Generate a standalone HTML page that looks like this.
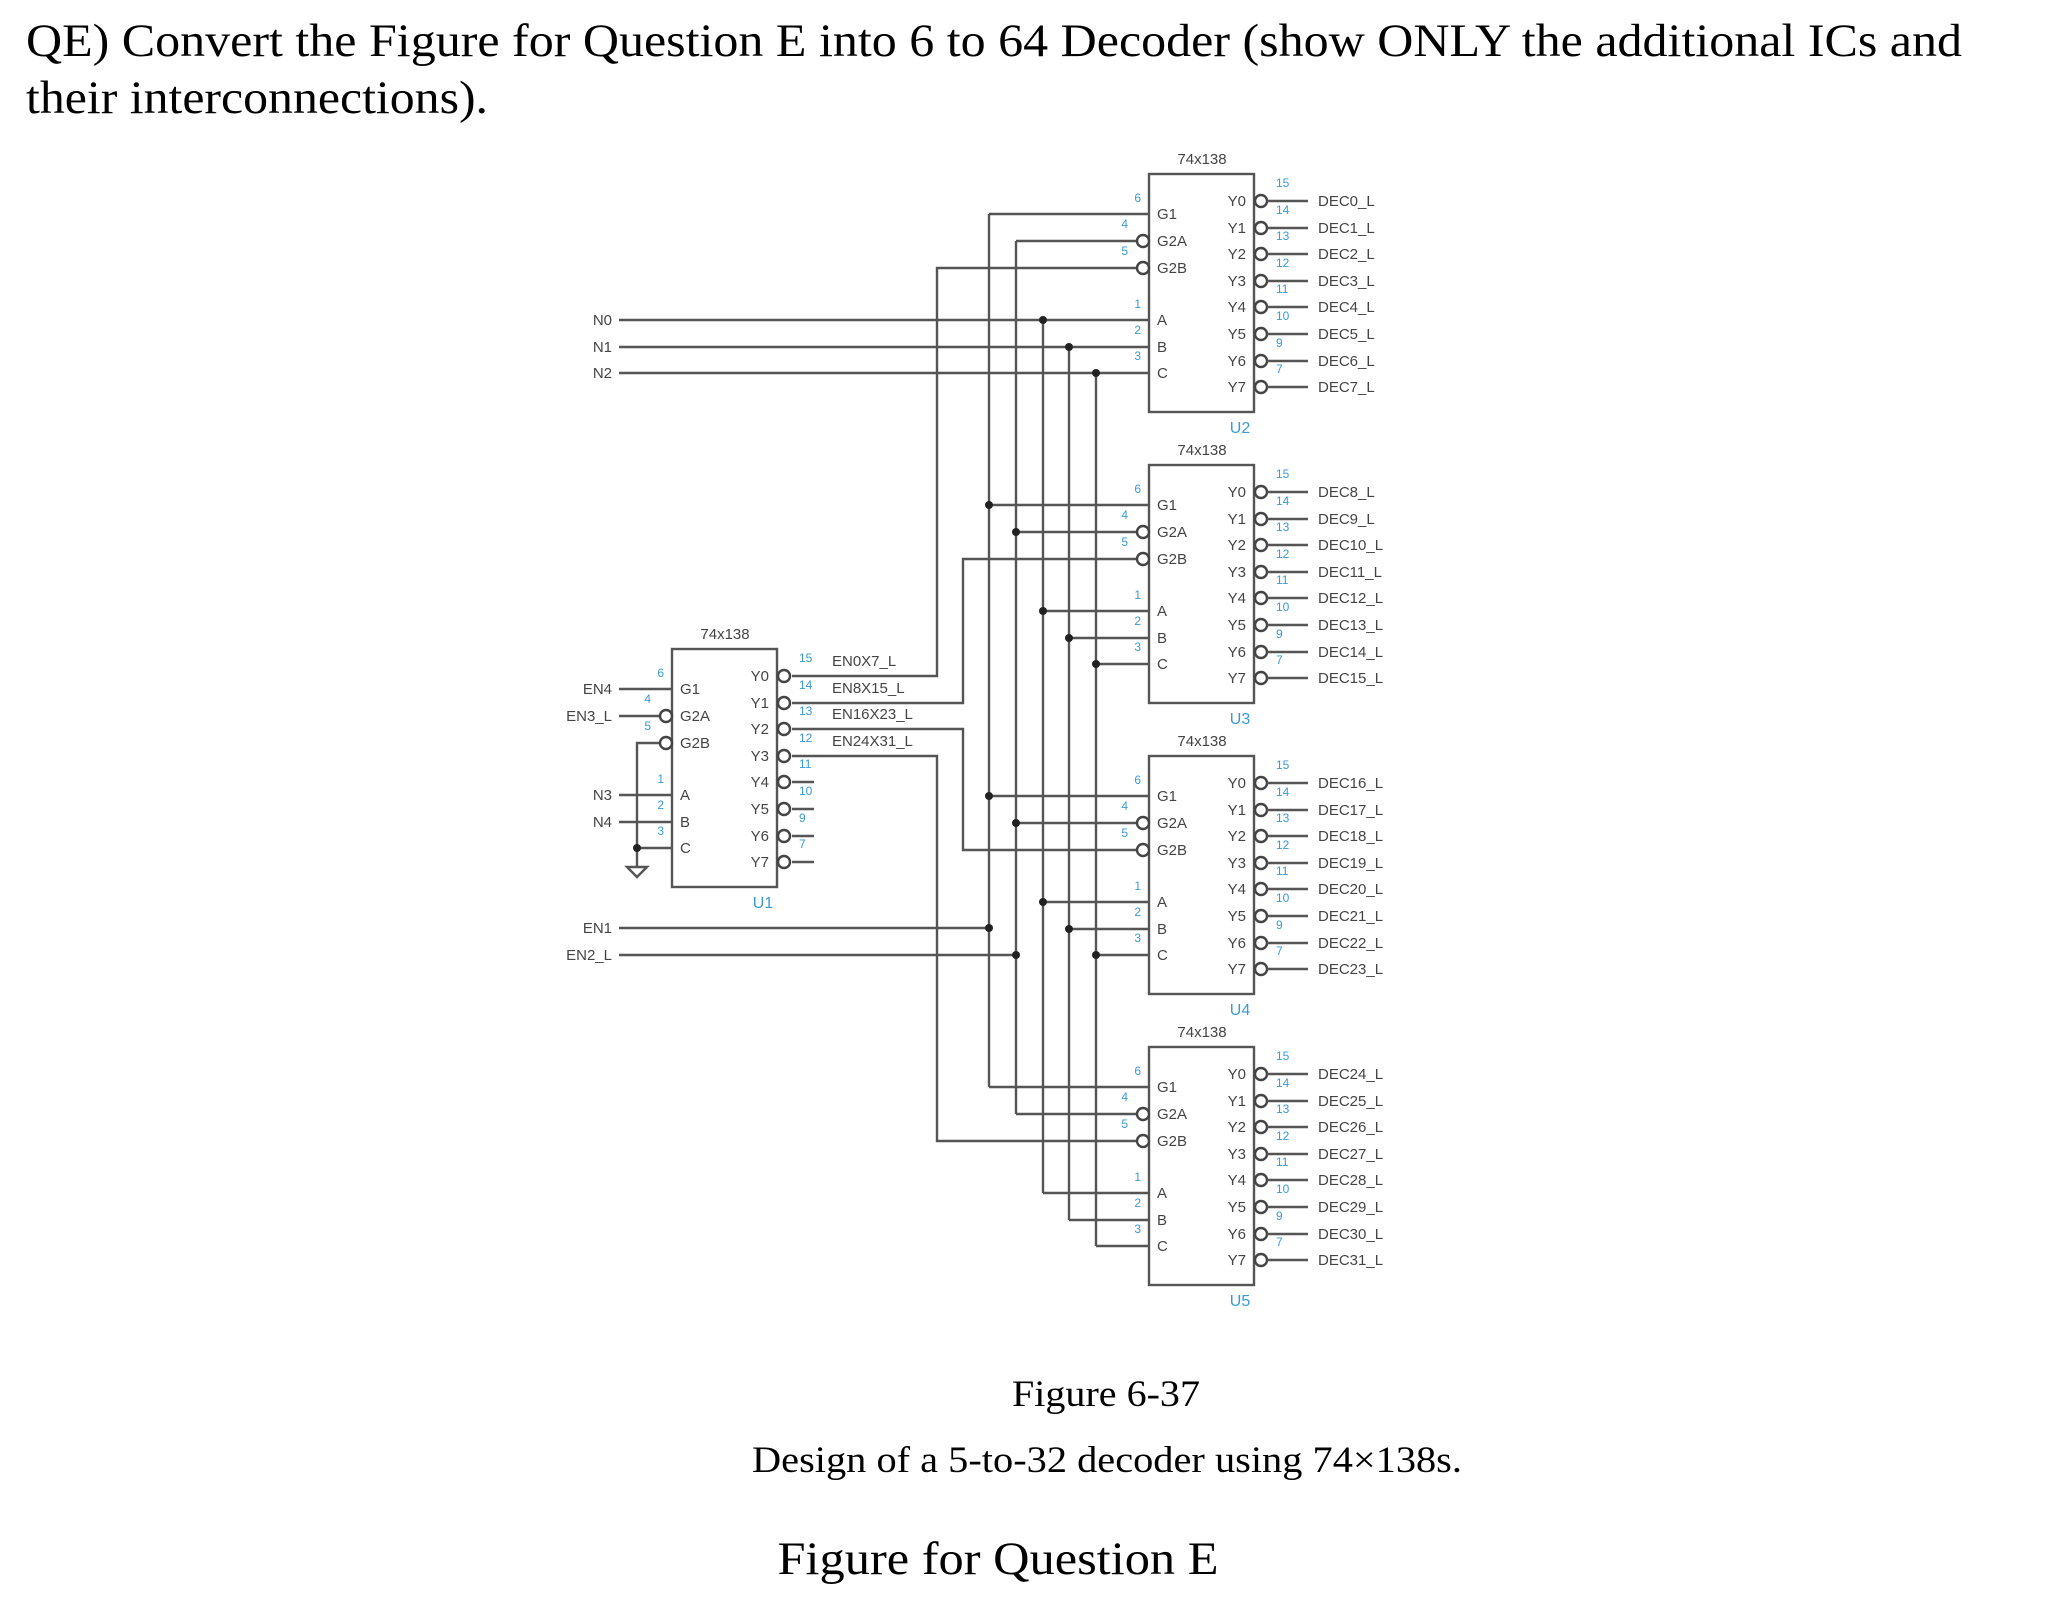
<!DOCTYPE html>
<html><head><meta charset="utf-8"><style>
html,body{margin:0;padding:0;background:#fff;}
svg{display:block;}
.t{font-family:"Liberation Serif",serif;fill:#000;}
.s{font-family:"Liberation Sans",sans-serif;font-size:15px;fill:#444;}
.b{font-family:"Liberation Sans",sans-serif;font-size:12px;fill:#3a9ad9;}
.u{font-family:"Liberation Sans",sans-serif;font-size:16px;fill:#3a9ad9;}
.w{fill:none;stroke:#555;stroke-width:2.4;}
.c{fill:#fff;stroke:#444;stroke-width:2.4;}
.d{fill:#222;}
</style></head><body>
<svg width="2046" height="1620" viewBox="0 0 2046 1620" xmlns="http://www.w3.org/2000/svg">
<defs>
<g id="chipbase">
<rect x="1149" y="0" width="105" height="238" class="w" stroke="#444"/>
<text x="1202" y="-10" class="s" text-anchor="middle">74x138</text>
<g class="s">
<text x="1157" y="45">G1</text><text x="1157" y="72">G2A</text><text x="1157" y="99">G2B</text>
<text x="1157" y="151">A</text><text x="1157" y="178">B</text><text x="1157" y="204">C</text>
</g>
<g class="s" text-anchor="end">
<text x="1246" y="32">Y0</text><text x="1246" y="59">Y1</text><text x="1246" y="85">Y2</text><text x="1246" y="112">Y3</text>
<text x="1246" y="138">Y4</text><text x="1246" y="165">Y5</text><text x="1246" y="192">Y6</text><text x="1246" y="218">Y7</text>
</g>
<g class="b" text-anchor="end">
<text x="1141" y="28">6</text><text x="1128" y="54">4</text><text x="1128" y="81">5</text>
<text x="1141" y="134">1</text><text x="1141" y="160">2</text><text x="1141" y="186">3</text>
</g>
<g class="b">
<text x="1276" y="13">15</text><text x="1276" y="40">14</text><text x="1276" y="66">13</text><text x="1276" y="93">12</text>
<text x="1276" y="119">11</text><text x="1276" y="146">10</text><text x="1276" y="173">9</text><text x="1276" y="199">7</text>
</g>
<circle cx="1143" cy="67" r="6" class="c"/><circle cx="1143" cy="94" r="6" class="c"/>
<g class="c">
<circle cx="1261" cy="27" r="6"/><circle cx="1261" cy="54" r="6"/><circle cx="1261" cy="80" r="6"/><circle cx="1261" cy="107" r="6"/>
<circle cx="1261" cy="133" r="6"/><circle cx="1261" cy="160" r="6"/><circle cx="1261" cy="187" r="6"/><circle cx="1261" cy="213" r="6"/>
</g>
</g>
<path id="outs" class="w" d="M1267 27H1308M1267 54H1308M1267 80H1308M1267 107H1308M1267 133H1308M1267 160H1308M1267 187H1308M1267 213H1308"/>
</defs>

<text x="26" y="56" class="t" font-size="47" textLength="1936" lengthAdjust="spacingAndGlyphs">QE) Convert the Figure for Question E into 6 to 64 Decoder (show ONLY the additional ICs and</text>
<text x="26" y="113" class="t" font-size="47" textLength="462" lengthAdjust="spacingAndGlyphs">their interconnections).</text>

<!-- wires -->
<path class="w" d="
M619 320H1149M619 347H1149M619 373H1149
M619 928H989M619 955H1016
M989 214V1087M1016 241V1114M1043 320V1193M1069 347V1220M1096 373V1246
M989 214H1149M989 505H1149M989 796H1149M989 1087H1149
M1016 241H1137M1016 532H1137M1016 823H1137M1016 1114H1137
M1043 611H1149M1043 902H1149M1043 1193H1149
M1069 638H1149M1069 929H1149M1069 1220H1149
M1096 664H1149M1096 955H1149M1096 1246H1149
M792 676H937V268H1137
M792 756H937V1141H1137
M792 703H963V559H1137
M792 729H963V850H1137
M619 689H672M619 716H660M660 743H637V867M637 848H672M619 795H672M619 822H672
M792 782H814M792 809H814M792 836H814M792 862H814
M627 867H647L637 877Z
"/>
<g class="d">
<circle cx="1043" cy="320" r="4"/><circle cx="1069" cy="347" r="4"/><circle cx="1096" cy="373" r="4"/>
<circle cx="989" cy="505" r="4"/><circle cx="1016" cy="532" r="4"/><circle cx="1043" cy="611" r="4"/><circle cx="1069" cy="638" r="4"/><circle cx="1096" cy="664" r="4"/>
<circle cx="989" cy="796" r="4"/><circle cx="1016" cy="823" r="4"/><circle cx="1043" cy="902" r="4"/><circle cx="1069" cy="929" r="4"/><circle cx="1096" cy="955" r="4"/>
<circle cx="989" cy="928" r="4"/><circle cx="1016" cy="955" r="4"/><circle cx="637" cy="848" r="4"/>
</g>

<g class="s" text-anchor="end">
<text x="612" y="325">N0</text><text x="612" y="352">N1</text><text x="612" y="378">N2</text>
<text x="612" y="694">EN4</text><text x="612" y="721">EN3_L</text>
<text x="612" y="800">N3</text><text x="612" y="827">N4</text>
<text x="612" y="933">EN1</text><text x="612" y="960">EN2_L</text>
</g>

<!-- U2 -->
<g transform="translate(0,174)"><use href="#chipbase"/><use href="#outs"/>
<text x="1240" y="259" class="u" text-anchor="middle">U2</text>
<g class="s"><text x="1318" y="32">DEC0_L</text><text x="1318" y="59">DEC1_L</text><text x="1318" y="85">DEC2_L</text><text x="1318" y="112">DEC3_L</text><text x="1318" y="138">DEC4_L</text><text x="1318" y="165">DEC5_L</text><text x="1318" y="192">DEC6_L</text><text x="1318" y="218">DEC7_L</text></g></g>
<!-- U3 -->
<g transform="translate(0,465)"><use href="#chipbase"/><use href="#outs"/>
<text x="1240" y="259" class="u" text-anchor="middle">U3</text>
<g class="s"><text x="1318" y="32">DEC8_L</text><text x="1318" y="59">DEC9_L</text><text x="1318" y="85">DEC10_L</text><text x="1318" y="112">DEC11_L</text><text x="1318" y="138">DEC12_L</text><text x="1318" y="165">DEC13_L</text><text x="1318" y="192">DEC14_L</text><text x="1318" y="218">DEC15_L</text></g></g>
<!-- U4 -->
<g transform="translate(0,756)"><use href="#chipbase"/><use href="#outs"/>
<text x="1240" y="259" class="u" text-anchor="middle">U4</text>
<g class="s"><text x="1318" y="32">DEC16_L</text><text x="1318" y="59">DEC17_L</text><text x="1318" y="85">DEC18_L</text><text x="1318" y="112">DEC19_L</text><text x="1318" y="138">DEC20_L</text><text x="1318" y="165">DEC21_L</text><text x="1318" y="192">DEC22_L</text><text x="1318" y="218">DEC23_L</text></g></g>
<!-- U5 -->
<g transform="translate(0,1047)"><use href="#chipbase"/><use href="#outs"/>
<text x="1240" y="259" class="u" text-anchor="middle">U5</text>
<g class="s"><text x="1318" y="32">DEC24_L</text><text x="1318" y="59">DEC25_L</text><text x="1318" y="85">DEC26_L</text><text x="1318" y="112">DEC27_L</text><text x="1318" y="138">DEC28_L</text><text x="1318" y="165">DEC29_L</text><text x="1318" y="192">DEC30_L</text><text x="1318" y="218">DEC31_L</text></g></g>
<!-- U1 -->
<g transform="translate(-477,649)"><use href="#chipbase"/>
<text x="1240" y="259" class="u" text-anchor="middle">U1</text></g>
<g class="s"><text x="832" y="666">EN0X7_L</text><text x="832" y="693">EN8X15_L</text><text x="832" y="719">EN16X23_L</text><text x="832" y="746">EN24X31_L</text></g>

<text x="1106" y="1406" class="t" font-size="37" fill="#333" text-anchor="middle" textLength="188" lengthAdjust="spacingAndGlyphs">Figure 6-37</text>
<text x="1107" y="1472" class="t" font-size="37" fill="#333" text-anchor="middle" textLength="710" lengthAdjust="spacingAndGlyphs">Design of a 5-to-32 decoder using 74×138s.</text>
<text x="998" y="1574" class="t" font-size="47" text-anchor="middle" textLength="441" lengthAdjust="spacingAndGlyphs">Figure for Question E</text>
</svg>
</body></html>
